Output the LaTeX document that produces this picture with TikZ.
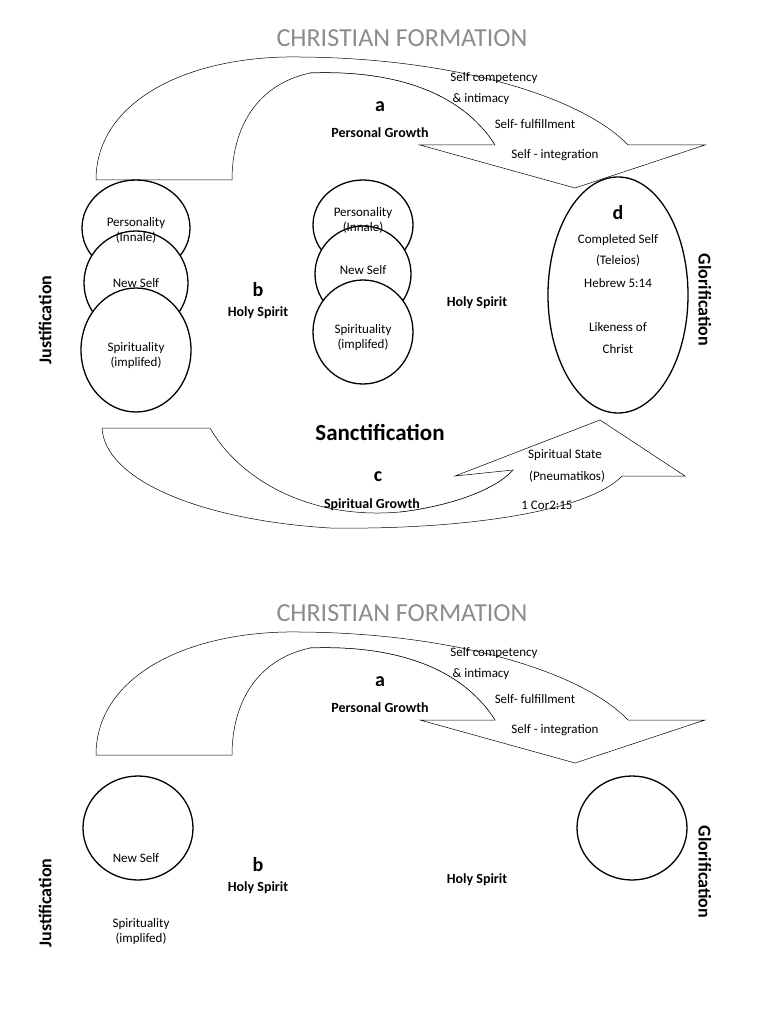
\documentclass[tikz,border=0pt]{standalone}
\usepackage{fontspec}
\setmainfont{Carlito}
\usetikzlibrary{shapes.geometric}
\begin{document}
\begin{tikzpicture}[x=1pt,y=-1pt,
  lbl/.style={font=\fontsize{13}{15}\selectfont, align=center},
  bld/.style={font=\fontsize{14}{16}\bfseries\selectfont},
  ltr/.style={font=\fontsize{20}{22}\bfseries\selectfont},
  big/.style={font=\fontsize{23}{25}\bfseries\selectfont},
  side/.style={font=\fontsize{18}{20}\bfseries\selectfont},
  ttl/.style={font=\fontsize{26}{28}\selectfont, text=black!45},
  ring/.style={draw, line width=1.3pt, fill=white, ellipse},
  shp/.style={draw, line width=0.5pt, fill=white}]
\useasboundingbox (0,0) rectangle (768,1024);

% ---------- upper diagram ----------
\node[ttl] (t1) at (402,38) {CHRISTIAN FORMATION};
\draw[shp] (96,180) .. controls (96,100) and (190,55) .. (300,57)
  .. controls (450,58) and (580,95) .. (628,145) -- (705,145) -- (575,188)
  -- (420,145) -- (495,145) .. controls (460,90) and (390,70) .. (310,73)
  .. controls (255,85) and (232,130) .. (232,180) -- cycle;
\draw[shp] (310,73) .. controls (390,70) and (460,90) .. (495,145);
\node[ltr] (a1) at (380,107) {a};
\node[bld] (pg1) at (380,133) {Personal Growth};
\node[lbl] (sc1) at (494,78) {Self competency};
\node[lbl] (in1) at (481,99) {\& intimacy};
\node[lbl] (sf1) at (535,124) {Self- fulfillment};
\node[lbl] (si1) at (555,155) {Self - integration};

\draw[shp] (102,428) -- (210,428) .. controls (240,480) and (310,520) .. (400,512)
  .. controls (450,506) and (495,490) .. (513,470) -- (455,476) -- (600,420)
  -- (685,476) -- (622,476) .. controls (590,510) and (470,530) .. (330,528)
  .. controls (200,520) and (105,480) .. (102,428);
\draw[shp] (400,512) .. controls (450,506) and (495,490) .. (513,470);
\node[big] (sa1) at (380,432) {Sanctification};
\node[ltr] (c1) at (378,477) {c};
\node[bld] (sg1) at (372,505) {Spiritual Growth};
\node[lbl] (ss1) at (565,455) {Spiritual State};
\node[lbl] (pn1) at (567,477) {(Pneumatikos)};
\node[lbl] (co1) at (547,505) {1 Cor2:15};

\node[ring, minimum width=108pt, minimum height=96pt] (lp1) at (136,228) {};
\node[ring, minimum width=104pt, minimum height=104pt] (ln1) at (136,283) {};
\node[ring, minimum width=110pt, minimum height=124pt] (ls1) at (136,350) {};
\node[lbl] at (136,230) {Personality\\(Innale)};
\node[lbl] at (136,283) {New Self};
\node[lbl] at (136,356) {Spirituality\\(implifed)};

\node[ring, minimum width=100pt, minimum height=90pt] (mp1) at (363,225) {};
\node[ring, minimum width=96pt, minimum height=96pt] (mn1) at (363,274) {};
\node[ring, minimum width=100pt, minimum height=104pt] (ms1) at (363,332) {};
\node[lbl] at (363,220) {Personality\\(Innale)};
\node[lbl] at (363,270) {New Self};
\node[lbl] at (363,338) {Spirituality\\(implifed)};

\node[ring, minimum width=140pt, minimum height=236pt] (rd1) at (618,295) {};
\node[ltr] at (618,213) {d};
\node[lbl] at (618,240) {Completed Self};
\node[lbl] at (618,261) {(Teleios)};
\node[lbl] at (618,283) {Hebrew 5:14};
\node[lbl] at (618,327) {Likeness of};
\node[lbl] at (618,349) {Christ};

\node[ltr] (b1) at (258,290) {b};
\node[bld] (hs1) at (258,313) {Holy Spirit};
\node[bld] (hs2) at (477,303) {Holy Spirit};
\node[side, rotate=90] (j1) at (45,320) {Justification};
\node[side, rotate=-90] (g1) at (705,300) {Glorification};

% ---------- lower diagram ----------
\begin{scope}[yshift=-575pt]
\node[ttl] (t2) at (402,38) {CHRISTIAN FORMATION};
\draw[shp] (96,180) .. controls (96,100) and (190,55) .. (300,57)
  .. controls (450,58) and (580,95) .. (628,145) -- (705,145) -- (575,188)
  -- (420,145) -- (495,145) .. controls (460,90) and (390,70) .. (310,73)
  .. controls (255,85) and (232,130) .. (232,180) -- cycle;
\draw[shp] (310,73) .. controls (390,70) and (460,90) .. (495,145);
\node[ltr] (a2) at (380,107) {a};
\node[bld] (pg2) at (380,133) {Personal Growth};
\node[lbl] (sc2) at (494,78) {Self competency};
\node[lbl] (in2) at (481,99) {\& intimacy};
\node[lbl] (sf2) at (535,124) {Self- fulfillment};
\node[lbl] (si2) at (555,155) {Self - integration};
\end{scope}

\node[ring, minimum width=110pt, minimum height=104pt] (ln2) at (138,828) {};
\node[lbl] at (136,858) {New Self};
\node[ring, minimum width=110pt, minimum height=104pt] (rn2) at (632,828) {};
\node[lbl] at (141,932) {Spirituality\\(implifed)};
\node[ltr] (b2) at (258,865) {b};
\node[bld] (hs3) at (258,888) {Holy Spirit};
\node[bld] (hs4) at (477,880) {Holy Spirit};
\node[side, rotate=90] (j2) at (45,903) {Justification};
\node[side, rotate=-90] (g2) at (705,872) {Glorification};
\end{tikzpicture}
\end{document}
